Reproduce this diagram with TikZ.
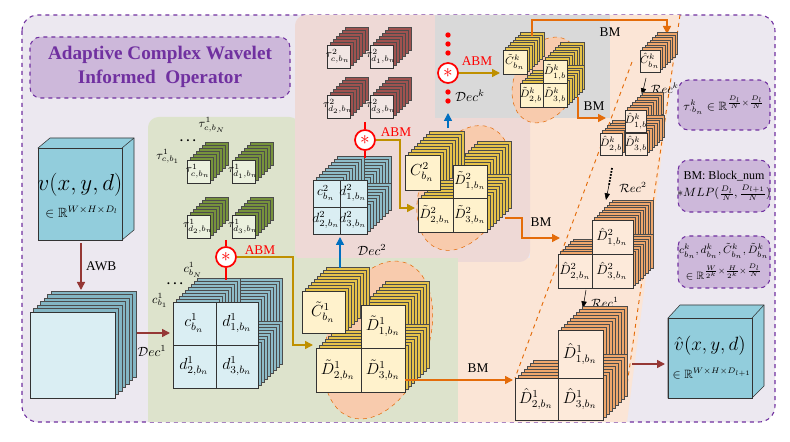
\documentclass[tikz,border=0pt]{standalone}
\usepackage{fontspec}
\setmainfont{Liberation Serif}
\usepackage{amssymb}
\usetikzlibrary{arrows.meta}
\definecolor{lav}{HTML}{ECE8F0}
\definecolor{purp}{HTML}{7030A0}
\definecolor{tbox}{HTML}{CDB8DA}
\definecolor{grn}{HTML}{DDE3CC}
\definecolor{pnk}{HTML}{EED9D6}
\definecolor{gry}{HTML}{D9D9D9}
\definecolor{pch}{HTML}{FBE5D6}
\definecolor{cyanF}{HTML}{92CDDC}
\definecolor{teal}{HTML}{31859C}
\definecolor{lblue}{HTML}{DAEEF3}
\definecolor{dgrn}{HTML}{77933C}
\definecolor{lgrn}{HTML}{EBF1DE}
\definecolor{brn}{HTML}{A0524F}
\definecolor{lbrn}{HTML}{F2E6E4}
\definecolor{ylw}{HTML}{E6C34A}
\definecolor{lylw}{HTML}{FFF2CC}
\definecolor{gold}{HTML}{BF9000}
\definecolor{org}{HTML}{E46C0A}
\definecolor{lorg}{HTML}{FDEADA}
\definecolor{ell}{HTML}{F8CBAD}
\definecolor{dred}{HTML}{953735}
\definecolor{blu}{HTML}{0070C0}
% layers only: x y w h n step colour
\newcommand\lay[7]{%
  \foreach \i in {#5,...,1}{\draw[fill=#7,draw=black!70,line width=0.3pt] (#1+\i*#6,#2-\i*#6) rectangle ++(#3,#4);}}
% front face
\newcommand\frt[5]{\draw[fill=#5,draw=black!80,line width=0.5pt] (#1,#2) rectangle ++(#3,#4);}
\tikzset{
  lab/.style={inner sep=0pt,font=\normalsize},
  otm/.style={circle,draw=red,fill=white,line width=1.3pt,minimum size=15pt,inner sep=0pt,text=red},
  redt/.style={text=red,font=\normalsize},
  blk/.style={font=\small},
  arr/.style={-{Triangle[length=6pt,width=6pt]},line width=1.2pt},
  box/.style={draw=purp,dashed,rounded corners=8pt,fill=tbox,line width=0.8pt}
}
\begin{document}
\begin{tikzpicture}[x=0.75pt,y=-0.75pt]
\useasboundingbox (0,0) rectangle (790,442);
% regions
\draw[purp,dashed,rounded corners=12pt,fill=lav,line width=0.8pt] (22,15) rectangle (775,422);
\fill[pch] (458,258) -- (530,258) -- (530,15) -- (680,15) -- (627,422) -- (458,422) -- cycle;
\fill[grn,rounded corners=8pt] (148,117) rectangle (300,422);
\fill[grn] (148,258) rectangle (458,422);
\fill[pnk,rounded corners=8pt] (295,15) rectangle (530,262);
\fill[grn] (295,258) rectangle (458,262);
\fill[gry] (435,15) rectangle (610,118);
\draw[org,dashed,line width=0.7pt] (632,62) -- (515,378);
\draw[org,dashed,line width=0.7pt] (680,15) -- (627,385);
% title
\draw[box] (30,37) rectangle (290,98);
\node[text=purp,font=\bfseries\Large,align=center,inner sep=0pt] (title) at (160,67) {Adaptive Complex Wavelet\\Informed~ Operator};
% input cube
\draw[fill=cyanF,draw=black!80] (38,148) -- (50,138) -- (134,138) -- (134,230) -- (122,240) -- cycle;
\draw[fill=cyanF,draw=black!80] (38,148) rectangle (122,240);
\draw[black!80] (122,148) -- (134,138);
\node[inner sep=0pt,font=\LARGE] (vin) at (80,185) {$v(x,y,d)$};
\node[inner sep=0pt] (vinr) at (82,212) {$\in\mathbb{R}^{W\times H\times D_l}$};
% big stack
\lay{30}{312}{85}{86}{6}{3.5}{teal!60}
\frt{30}{312}{85}{86}{lblue}
\draw[arr,dred] (81,243) -- (81,290) node[midway,right,black,font=\normalsize] (awb) {AWB};
\draw[arr,dred] (137,333) -- (170,333);
\node[font=\normalsize] (dec1) at (152,351) {$\mathcal{D}ec^1$};
% green grid level1
\lay{216}{302}{42}{43}{8}{3}{teal!55}
\lay{173}{302}{43}{43}{8}{3}{teal!55}
\lay{216}{345}{42}{43}{8}{3}{teal!55}
\frt{173}{302}{43}{43}{lblue}\frt{216}{302}{42}{43}{lblue}
\frt{173}{345}{43}{43}{lblue}\frt{216}{345}{42}{43}{lblue}
\node[lab,font=\large] (c1) at (194,323) {$c^1_{b_n}$};
\node[lab,font=\large] (d11) at (237,323) {$d^1_{1,b_n}$};
\node[lab,font=\large] (d12) at (194,366) {$d^1_{2,b_n}$};
\node[lab,font=\large] (d13) at (237,366) {$d^1_{3,b_n}$};
\node[lab,font=\small] (cb1) at (160,300) {$c^1_{b_1}$};
\node[lab,font=\small] (cbN) at (193,270) {$c^1_{b_N}$};
\node[lab,font=\Large] (cdots) at (175,284) {$\cdot\!\cdot\!\cdot$};
% tau1
\lay{232}{160}{23}{23}{6}{3}{dgrn}\frt{232}{160}{23}{23}{lgrn}
\lay{187}{160}{23}{23}{6}{3}{dgrn}\frt{187}{160}{23}{23}{lgrn}
\lay{232}{215}{23}{23}{6}{3}{dgrn}\frt{232}{215}{23}{23}{lgrn}
\lay{187}{215}{23}{23}{6}{3}{dgrn}\frt{187}{215}{23}{23}{lgrn}
\node[lab,font=\footnotesize] (t1c) at (198,171) {$\tau^1_{c,b_n}$};
\node[lab,font=\footnotesize] (t1d1) at (243,171) {$\tau^1_{d_1,b_n}$};
\node[lab,font=\footnotesize] (t1d2) at (198,226) {$\tau^1_{d_2,b_n}$};
\node[lab,font=\footnotesize] (t1d3) at (243,226) {$\tau^1_{d_3,b_n}$};
\node[lab,font=\small] (tb1) at (168,156) {$\tau^1_{c,b_1}$};
\node[lab,font=\small] (tbN) at (212,125) {$\tau^1_{c,b_N}$};
\node[lab,font=\Large] (tdots) at (188,141) {$\cdot\!\cdot\!\cdot$};
% ABM 1
\node[otm] (o1) at (226,257) {\Large$\ast$};
\draw[red,line width=1.2pt] (226,240) -- (o1) -- (226,280);
\node[redt] (abm1) at (260,250) {ABM};
\draw[arr,gold] (o1.east) -- (293,257) -- (293,345) -- (313,345);
% yellow set1
\draw[org,dashed,fill=ell,rotate around={-20:(378,340)}] (378,340) ellipse (50 and 82);
\lay{361}{305}{44}{43}{8}{3}{ylw}
\lay{302}{291}{43}{42}{8}{3}{ylw}
\lay{361}{348}{44}{44}{8}{3}{ylw}
\lay{316}{348}{45}{44}{6}{3}{ylw}
\frt{302}{291}{43}{42}{lylw}\frt{361}{305}{44}{43}{lylw}
\frt{316}{348}{45}{44}{lylw}\frt{361}{348}{44}{44}{lylw}
\node[lab,font=\large] (C1) at (323,312) {$\tilde{C}^1_{b_n}$};
\node[lab,font=\large] (D11) at (383,326) {$\tilde{D}^1_{1,b_n}$};
\node[lab,font=\large] (D12) at (338,370) {$\tilde{D}^1_{2,b_n}$};
\node[lab,font=\large] (D13) at (383,370) {$\tilde{D}^1_{3,b_n}$};
\draw[arr,blu] (340,268) -- (340,237);
\node[font=\normalsize] (dec2) at (372,250) {$\mathcal{D}ec^2$};
% teal level2
\lay{340}{180}{27}{27}{8}{3}{teal!55}
\lay{313}{180}{27}{27}{8}{3}{teal!55}
\lay{340}{207}{27}{27}{8}{3}{teal!55}
\frt{313}{180}{27}{27}{lblue}\frt{340}{180}{27}{27}{lblue}
\frt{313}{207}{27}{27}{lblue}\frt{340}{207}{27}{27}{lblue}
\node[lab] (c2) at (326,193) {$c^2_{b_n}$};
\node[lab] (d21) at (353,193) {$d^2_{1,b_n}$};
\node[lab] (d22) at (326,220) {$d^2_{2,b_n}$};
\node[lab] (d23) at (353,220) {$d^2_{3,b_n}$};
% tau2
\lay{370}{45}{23}{23}{6}{3}{brn}\frt{370}{45}{23}{23}{lbrn}
\lay{327}{45}{23}{23}{6}{3}{brn}\frt{327}{45}{23}{23}{lbrn}
\lay{370}{95}{23}{23}{6}{3}{brn}\frt{370}{95}{23}{23}{lbrn}
\lay{327}{95}{23}{23}{6}{3}{brn}\frt{327}{95}{23}{23}{lbrn}
\node[lab,font=\footnotesize] (t2c) at (338,56) {$\tau^2_{c,b_n}$};
\node[lab,font=\footnotesize] (t2d1) at (381,56) {$\tau^2_{d_1,b_n}$};
\node[lab,font=\footnotesize] (t2d2) at (338,106) {$\tau^2_{d_2,b_n}$};
\node[lab,font=\footnotesize] (t2d3) at (381,106) {$\tau^2_{d_3,b_n}$};
\node[otm] (o2) at (365,140) {\Large$\ast$};
\draw[red,line width=1.2pt] (365,122) -- (o2) -- (365,158);
\node[redt] (abm2) at (396,132) {ABM};
\draw[arr,gold] (o2.east) -- (400,140) -- (400,208) -- (415,208);
% yellow set2
\draw[org,dashed,fill=ell,rotate around={-25:(464,188)}] (464,188) ellipse (42 and 66);
\lay{453}{165}{34}{33}{8}{3}{ylw}
\lay{405}{155}{35}{35}{8}{3}{ylw}
\lay{453}{198}{34}{34}{8}{3}{ylw}
\lay{418}{198}{35}{34}{6}{3}{ylw}
\frt{405}{155}{35}{35}{lylw}\frt{453}{165}{34}{33}{lylw}
\frt{418}{198}{35}{34}{lylw}\frt{453}{198}{34}{34}{lylw}
\node[lab,font=\large] (C2) at (422,172) {$C^2_{b_n}$};
\node[lab] (D21) at (470,181) {$\tilde{D}^2_{1,b_n}$};
\node[lab] (D22) at (435,215) {$\tilde{D}^2_{2,b_n}$};
\node[lab] (D23) at (470,215) {$\tilde{D}^2_{3,b_n}$};
\draw[arr,org] (505,218) -- (522,218) -- (522,238) -- (560,238);
\node[font=\normalsize] (bm2) at (541,222) {BM};
% level k
\draw[arr,blu] (448,128) -- (448,113);
\foreach \yy [count=\k] in {35,44,53,92,101}{\fill[red] (448,\yy) circle (2pt) coordinate (rd\k);}
\node[otm] (ok) at (448,73) {\Large$\ast$};
\node[font=\normalsize] (deck) at (470,96) {$\mathcal{D}ec^k$};
\node[redt] (abmk) at (477,61) {ABM};
\draw[arr,gold] (ok.east) -- (500,73);
\draw[org,dashed,fill=ell,rotate around={-25:(546,80)}] (546,80) ellipse (31 and 45);
\lay{543}{60}{24}{23}{7}{2.5}{ylw}
\lay{503}{50}{24}{24}{7}{2.5}{ylw}
\lay{543}{83}{24}{24}{7}{2.5}{ylw}
\lay{520}{83}{23}{24}{5}{2.5}{ylw}
\frt{503}{50}{24}{24}{lylw}\frt{543}{60}{24}{23}{lylw}
\frt{520}{83}{23}{24}{lylw}\frt{543}{83}{24}{24}{lylw}
\node[lab,font=\footnotesize] (Ck) at (515,62) {$\tilde{C}^k_{b_n}$};
\node[lab,font=\footnotesize] (Dk1) at (555,72) {$\tilde{D}^k_{1,b}$};
\node[lab,font=\footnotesize] (Dk2) at (531,95) {$\tilde{D}^k_{2,b}$};
\node[lab,font=\footnotesize] (Dk3) at (555,95) {$\tilde{D}^k_{3,b}$};
\draw[arr,org] (532,36) -- (532,20) -- (667,20) -- (667,34);
\node[font=\normalsize] (bmk1) at (610,32) {BM};
\draw[arr,org] (578,97) -- (578,118) -- (606,118);
\node[font=\normalsize] (bmk2) at (594,106) {BM};
% Rec stack
\lay{640}{50}{20}{22}{7}{2.5}{org!60}\frt{640}{50}{20}{22}{lorg}
\node[lab,font=\footnotesize] (Chk) at (650,61) {$\hat{C}^k_{b_n}$};
\draw[-{Triangle[length=5pt,width=4pt]}] (646,78) -- (642,95);
\node[blk] (reck) at (665,88) {$\mathcal{R}ec^k$};
\lay{625}{110}{21}{22}{7}{2.5}{org!60}
\lay{625}{133}{22}{22}{7}{2.5}{org!60}
\lay{600}{133}{22}{22}{5}{2.5}{org!60}
\frt{625}{110}{21}{22}{lorg}\frt{600}{133}{22}{22}{lorg}\frt{625}{133}{22}{22}{lorg}
\node[lab,font=\footnotesize] (Dhk1) at (636,121) {$\hat{D}^k_{1,b}$};
\node[lab,font=\footnotesize] (Dhk2) at (611,144) {$\hat{D}^k_{2,b}$};
\node[lab,font=\footnotesize] (Dhk3) at (636,144) {$\hat{D}^k_{3,b}$};
\draw[densely dotted,line width=1.3pt] (612,168) -- (609,185);
\draw[-{Triangle[length=5pt,width=4pt]}] (609,185) -- (606,200);
\node[blk] (rec2) at (633,187) {$\mathcal{R}ec^2$};
\lay{592}{220}{41}{34}{8}{2.5}{org!60}
\lay{592}{254}{41}{34}{8}{2.5}{org!60}
\lay{558}{254}{34}{34}{6}{2.5}{org!60}
\frt{592}{220}{41}{34}{lorg}\frt{558}{254}{34}{34}{lorg}\frt{592}{254}{41}{34}{lorg}
\node[lab] (Dh21) at (612,237) {$\hat{D}^2_{1,b_n}$};
\node[lab] (Dh22) at (575,271) {$\hat{D}^2_{2,b_n}$};
\node[lab] (Dh23) at (612,271) {$\hat{D}^2_{3,b_n}$};
\draw[-{Triangle[length=5pt,width=4pt]}] (586,290) -- (583,308);
\node[blk] (rec1) at (605,302) {$\mathcal{R}ec^1$};
\lay{558}{330}{45}{48}{8}{3}{org!60}
\lay{558}{378}{45}{42}{8}{3}{org!60}
\lay{515}{378}{43}{42}{6}{3}{org!60}
\frt{558}{330}{45}{48}{lorg}\frt{515}{378}{43}{42}{lorg}\frt{558}{378}{45}{42}{lorg}
\node[lab,font=\large] (Dh11) at (580,354) {$\hat{D}^1_{1,b_n}$};
\node[lab,font=\large] (Dh12) at (536,399) {$\hat{D}^1_{2,b_n}$};
\node[lab,font=\large] (Dh13) at (580,399) {$\hat{D}^1_{3,b_n}$};
\draw[arr,org] (405,380) -- (513,380);
\node[font=\normalsize] (bm1) at (478,368) {BM};
% output cube
\draw[arr,dred] (632,364) -- (665,364);
\draw[fill=cyanF,draw=black!80] (668,318) -- (680,305) -- (764,305) -- (764,386) -- (752,398) -- (668,398) -- cycle;
\draw[fill=cyanF,draw=black!80] (668,318) rectangle (752,398);
\draw[black!80] (752,318) -- (764,305);
\node[inner sep=0pt,font=\Large] (vout) at (710,346) {$\hat{v}(x,y,d)$};
\node[inner sep=0pt,font=\small] (voutr) at (712,374) {$\in\mathbb{R}^{W\times H\times D_{l+1}}$};
% legends
\draw[box] (678,80) rectangle (770,130);
\node[inner sep=0pt,font=\small] (lg1) at (724,105) {$\tau^k_{\cdot b_n}\in\mathbb{R}^{\frac{D_l}{N}\times\frac{D_l}{N}}$};
\draw[box] (678,160) rectangle (770,212);
\node[inner sep=0pt,font=\small,align=center] (lg2) at (724,186) {BM: Block\_num\\[2pt]$*MLP(\frac{D_l}{N},\frac{D_{l+1}}{N})$};
\draw[box] (678,236) rectangle (770,288);
\node[inner sep=0pt,font=\footnotesize,align=center] (lg3) at (724,262) {$c^k_{b_n},d^k_{b_n},\tilde{C}^k_{b_n},\tilde{D}^k_{b_n}$\\[3pt]$\in\mathbb{R}^{\frac{W}{2^k}\times\frac{H}{2^k}\times\frac{D_l}{N}}$};
\end{tikzpicture}
\end{document}
